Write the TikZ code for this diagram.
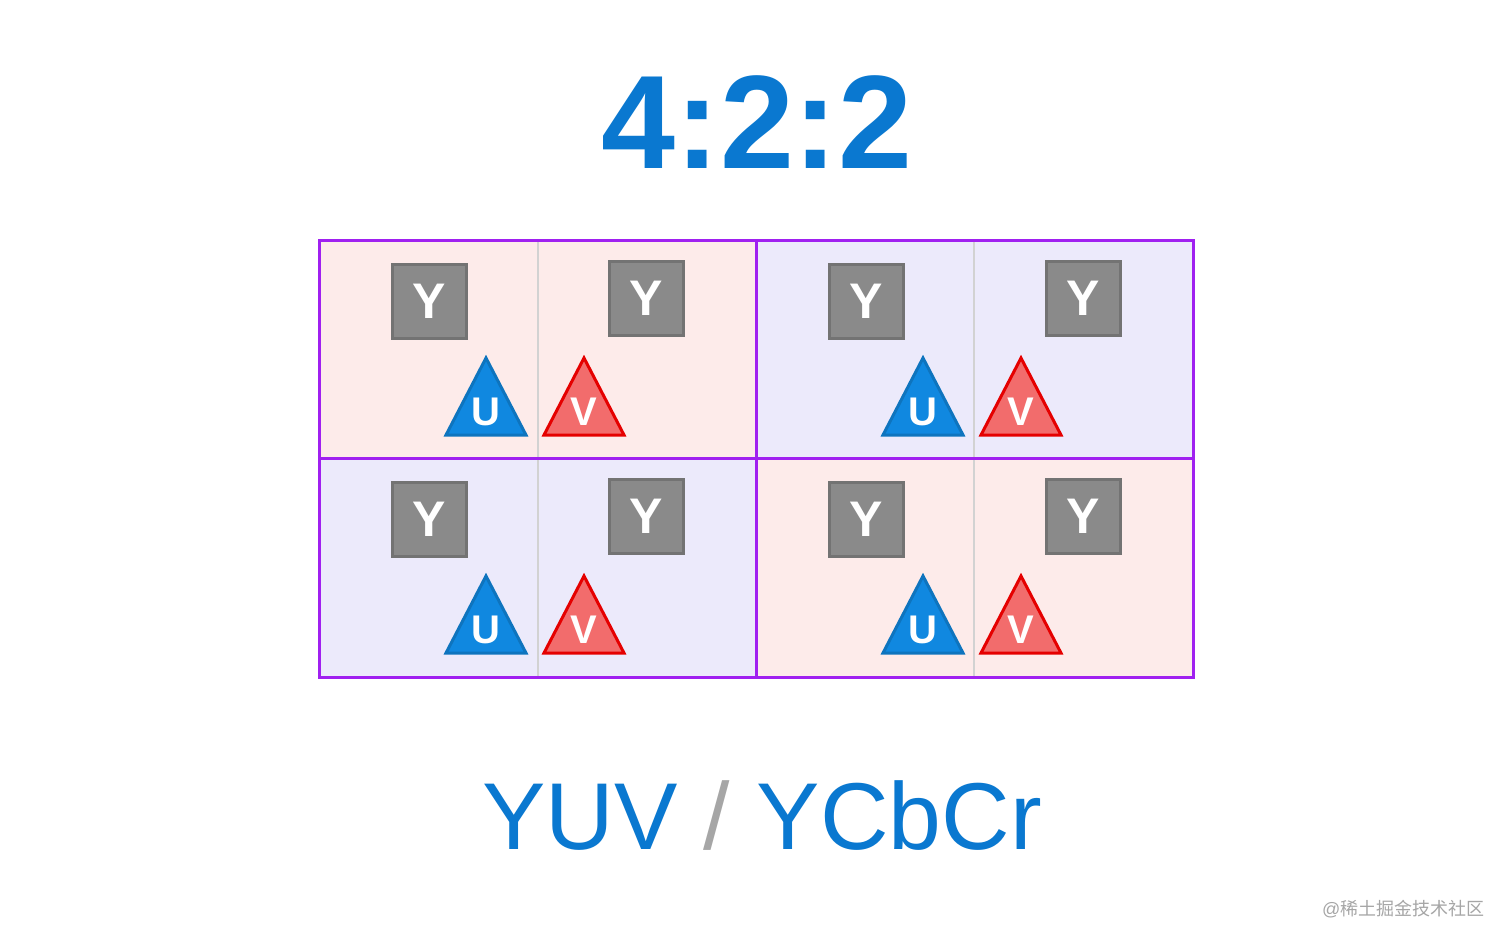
\documentclass[tikz,border=0pt]{standalone}
\usepackage{fontspec}
\setmainfont{Liberation Sans}
\newfontfamily\cjk{Noto Sans CJK SC}
\definecolor{tblue}{HTML}{0A78D0}
\definecolor{pinkf}{HTML}{FDEBEA}
\definecolor{lavf}{HTML}{ECEAFB}
\definecolor{purp}{HTML}{A020F0}
\definecolor{ugray}{HTML}{8A8A8A}
\definecolor{ublue}{HTML}{1088E0}
\definecolor{vred}{HTML}{F26C6C}
\tikzset{
 ybox/.style={draw=gray!90!black,line width=3pt,fill=ugray,minimum size=74pt,inner sep=0pt,text=white,font=\bfseries\fontsize{50}{50}\selectfont},
 tri/.style={line width=3pt,line join=miter},
 lett/.style={text=white,font=\bfseries\fontsize{40}{40}\selectfont,inner sep=0pt},
}
\begin{document}
\begin{tikzpicture}[x=1pt,y=-1pt]
\useasboundingbox (0,0) rectangle (1512,945);
\fill[white] (0,0) rectangle (1512,945);
\node[text=tblue,font=\bfseries\fontsize{133}{133}\selectfont] (title) at (757,122) {4:2:2};
\fill[pinkf] (319,240) rectangle (756,458);
\fill[lavf] (756,240) rectangle (1193,458);
\fill[lavf] (319,458) rectangle (756,677);
\fill[pinkf] (756,458) rectangle (1193,677);
\draw[gray!35,line width=2pt] (538,240) -- (538,677) (974,240) -- (974,677);
\foreach \qx/\qy [count=\i] in {319/240,756/240,319/458,756/458}{
  \node[ybox] (ya\i) at (\qx+110,\qy+61) {Y};
  \node[ybox] (yb\i) at (\qx+327,\qy+58) {Y};
  \draw[tri,draw=ublue!85!black,fill=ublue] (\qx+167,\qy+118) -- (\qx+207,\qy+195) -- (\qx+127,\qy+195) -- cycle;
  \node[lett] (u\i) at (\qx+167,\qy+172) {U};
  \draw[tri,draw=red!90!black,fill=vred] (\qx+265,\qy+118) -- (\qx+305,\qy+195) -- (\qx+225,\qy+195) -- cycle;
  \node[lett] (v\i) at (\qx+265,\qy+172) {V};
}
\draw[purp,line width=3pt] (319,240) rectangle (1193,677) (756,240) -- (756,677) (319,458) -- (1193,458);
\node[font=\fontsize{95}{95}\selectfont,text=tblue] (sub) at (762,816) {YUV \textcolor{gray!70}{/} YCbCr};
\node[anchor=east,text=gray!70,font=\fontsize{18}{18}\selectfont] (wm) at (1488,909) {@\cjk 稀土掘金技术社区};
\end{tikzpicture}
\end{document}
